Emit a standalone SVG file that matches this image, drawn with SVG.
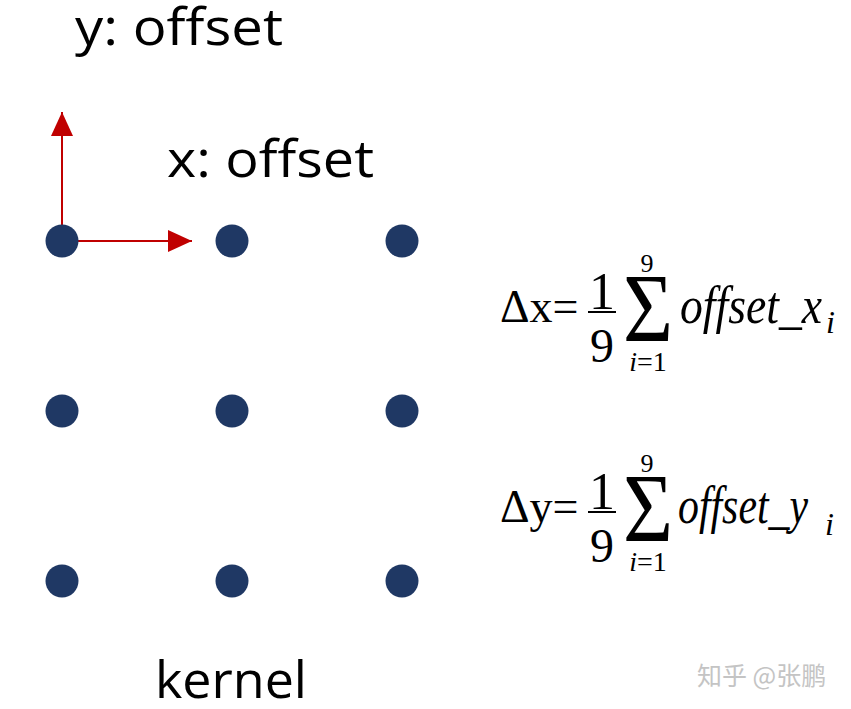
<svg xmlns="http://www.w3.org/2000/svg" width="851" height="709" viewBox="0 0 851 709">
<style>
.lbl{font-family:"Open Sans","Liberation Sans",sans-serif;font-size:52px;fill:#000}
.m{font-family:"Liberation Serif","Times New Roman",serif;fill:#000}
.it{font-style:italic}
.dot{fill:#1F3864}
.ax{stroke:#C00000;stroke-width:2;fill:none}
.wm{font-family:"Noto Sans CJK SC","Noto Sans",sans-serif;font-size:25px;fill:#c4c4c4}
</style>
<defs>
<marker id="ah" viewBox="0 0 24 22" refX="24" refY="11" markerWidth="24" markerHeight="22" markerUnits="userSpaceOnUse" orient="auto">
<path d="M0,0 L24,11 L0,22 Z" fill="#C00000"/>
</marker>
</defs>
<rect width="851" height="709" fill="#fff"/>
<g id="connectors">
<line class="ax" x1="62" y1="241" x2="62" y2="112" marker-end="url(#ah)"/>
<line class="ax" x1="62" y1="241" x2="192" y2="241" marker-end="url(#ah)"/>
</g>
<g id="dots">
<circle class="dot" cx="62" cy="241" r="16.5"/>
<circle class="dot" cx="232" cy="241" r="16.5"/>
<circle class="dot" cx="402" cy="241" r="16.5"/>
<circle class="dot" cx="62" cy="411" r="16.5"/>
<circle class="dot" cx="232" cy="411" r="16.5"/>
<circle class="dot" cx="402" cy="411" r="16.5"/>
<circle class="dot" cx="62" cy="581" r="16.5"/>
<circle class="dot" cx="232" cy="581" r="16.5"/>
<circle class="dot" cx="402" cy="581" r="16.5"/>
</g>
<g id="labels">
<text class="lbl" x="75" y="45" textLength="208" lengthAdjust="spacingAndGlyphs">y: offset</text>
<text class="lbl" x="167" y="177" textLength="207" lengthAdjust="spacingAndGlyphs">x: offset</text>
<text class="lbl" x="155" y="698" textLength="152" lengthAdjust="spacingAndGlyphs">kernel</text>
</g>
<g id="formula-x">
<text class="m" x="500" y="322" font-size="46">Δx=</text>
<text class="m" x="602" y="309" font-size="52" text-anchor="middle">1</text>
<line x1="588" y1="312" x2="616" y2="312" stroke="#000" stroke-width="2"/>
<text class="m" x="602" y="362" font-size="48" text-anchor="middle">9</text>
<text class="m" x="647" y="272" font-size="26" text-anchor="middle">9</text>
<text class="m" x="623" y="341" font-size="98" textLength="50" lengthAdjust="spacingAndGlyphs">Σ</text>
<text class="m" x="648" y="371" font-size="28" text-anchor="middle"><tspan class="it">i</tspan>=1</text>
<text class="m it" x="680" y="323" font-size="52" textLength="142" lengthAdjust="spacingAndGlyphs">offset_x</text>
<text class="m it" x="826" y="333" font-size="32">i</text>
</g>
<g id="formula-y">
<text class="m" x="500" y="522" font-size="46">Δy=</text>
<text class="m" x="602" y="509" font-size="52" text-anchor="middle">1</text>
<line x1="588" y1="512" x2="616" y2="512" stroke="#000" stroke-width="2"/>
<text class="m" x="602" y="562" font-size="48" text-anchor="middle">9</text>
<text class="m" x="647" y="472" font-size="26" text-anchor="middle">9</text>
<text class="m" x="623" y="541" font-size="98" textLength="50" lengthAdjust="spacingAndGlyphs">Σ</text>
<text class="m" x="648" y="571" font-size="28" text-anchor="middle"><tspan class="it">i</tspan>=1</text>
<text class="m it" x="678" y="523" font-size="52" textLength="130" lengthAdjust="spacingAndGlyphs">offset_y</text>
<text class="m it" x="825" y="535" font-size="32">i</text>
</g>
<g id="watermark">
<text class="wm" x="697" y="685">知乎 @张鹏</text>
</g>
</svg>
